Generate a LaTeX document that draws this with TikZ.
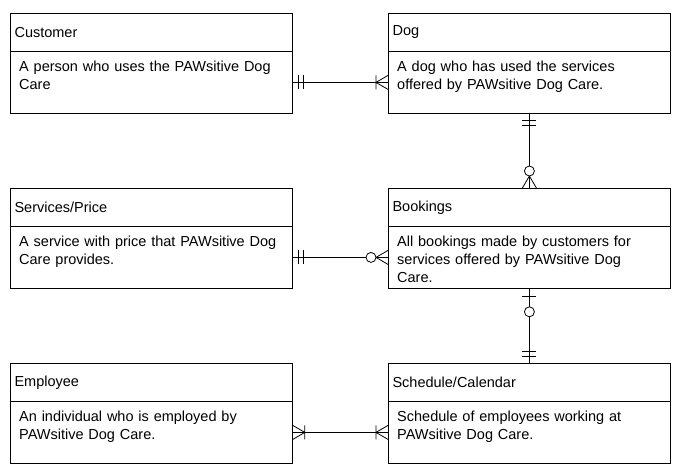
\documentclass[tikz,border=0pt]{standalone}
\usepackage{fontspec}
\setmainfont{Liberation Sans}
\begin{document}
\begin{tikzpicture}[x=1pt,y=-1pt,
  hdr/.style={draw,line width=0.8pt,minimum width=282pt,minimum height=38pt,anchor=north west,inner sep=0pt},
  bdy/.style={draw,line width=0.8pt,minimum width=282pt,minimum height=62pt,anchor=north west,inner sep=0pt},
  ht/.style={anchor=west,font=\fontsize{14.5}{18}\selectfont},
  bt/.style={anchor=north west,align=left,text width=272pt,font=\fontsize{14.5}{18}\selectfont,inner sep=0pt},
  ln/.style={line width=0.8pt}]
\useasboundingbox (0,0) rectangle (677,472);
\foreach \n/\x/\y/\t/\b in {
 cu/10/13/Customer/{A person who uses the PAWsitive Dog\\Care},
 dg/388/13/Dog/{A dog who has used the services\\offered by PAWsitive Dog Care.},
 sp/10/188/Services\slash Price/{A service with price that PAWsitive Dog\\Care provides.},
 bk/388/188/Bookings/{All bookings made by customers for\\services offered by PAWsitive Dog\\Care.},
 em/10/363/Employee/{An individual who is employed by\\PAWsitive Dog Care.},
 sc/388/363/Schedule\slash Calendar/{Schedule of employees working at\\PAWsitive Dog Care.}}{
 \node[hdr] (\n h) at (\x,\y) {};
 \node[bdy] (\n) at (\x,\y+38) {};
 \node[ht] (\n ht) at ([xshift=1pt]\n h.west) {\t};
 \node[bt] (\n bt) at ([xshift=9pt,yshift=-10pt]\n.north west) {\b};
}
% connectors
\draw[ln] (cu.east) -- (dg.west);
\draw[ln] (sp.east) -- (bk.west);
\draw[ln] (em.east) -- (sc.west);
\draw[ln] (dg.south) -- (bkh.north);
\draw[ln] (bk.south) -- (sch.north);
% Customer - Dog
\draw[ln] ([xshift=6pt,yshift=7pt]cu.east) -- ++(0,14) ([xshift=11pt,yshift=7pt]cu.east) -- ++(0,14);
\draw[ln] ([yshift=7pt]dg.west) -- ++(-12,7) -- ++(12,7) ([xshift=-12pt,yshift=7pt]dg.west) -- ++(0,14);
% Services - Bookings
\draw[ln] ([xshift=6pt,yshift=7pt]sp.east) -- ++(0,14) ([xshift=11pt,yshift=7pt]sp.east) -- ++(0,14);
\draw[ln] ([yshift=7pt]bk.west) -- ++(-12,7) -- ++(12,7);
\draw[ln,fill=white] ([xshift=-17pt]bk.west) circle (5);
% Employee - Schedule
\draw[ln] ([yshift=7pt]em.east) -- ++(12,7) -- ++(-12,7) ([xshift=12pt,yshift=7pt]em.east) -- ++(0,14);
\draw[ln] ([yshift=7pt]sc.west) -- ++(-12,7) -- ++(12,7) ([xshift=-12pt,yshift=7pt]sc.west) -- ++(0,14);
% Dog - Bookings
\draw[ln] ([xshift=-7pt,yshift=-7pt]dg.south) -- ++(14,0) ([xshift=-7pt,yshift=-12pt]dg.south) -- ++(14,0);
\draw[ln] ([xshift=-7pt]bkh.north) -- ++(7,-12) -- ++(7,12);
\draw[ln,fill=white] ([yshift=17pt]bkh.north) circle (5);
% Bookings - Schedule
\draw[ln] ([xshift=-7pt,yshift=-8pt]bk.south) -- ++(14,0);
\draw[ln,fill=white] ([yshift=-23pt]bk.south) circle (5);
\draw[ln] ([xshift=-7pt,yshift=7pt]sch.north) -- ++(14,0) ([xshift=-7pt,yshift=12pt]sch.north) -- ++(14,0);
\end{tikzpicture}
\end{document}
